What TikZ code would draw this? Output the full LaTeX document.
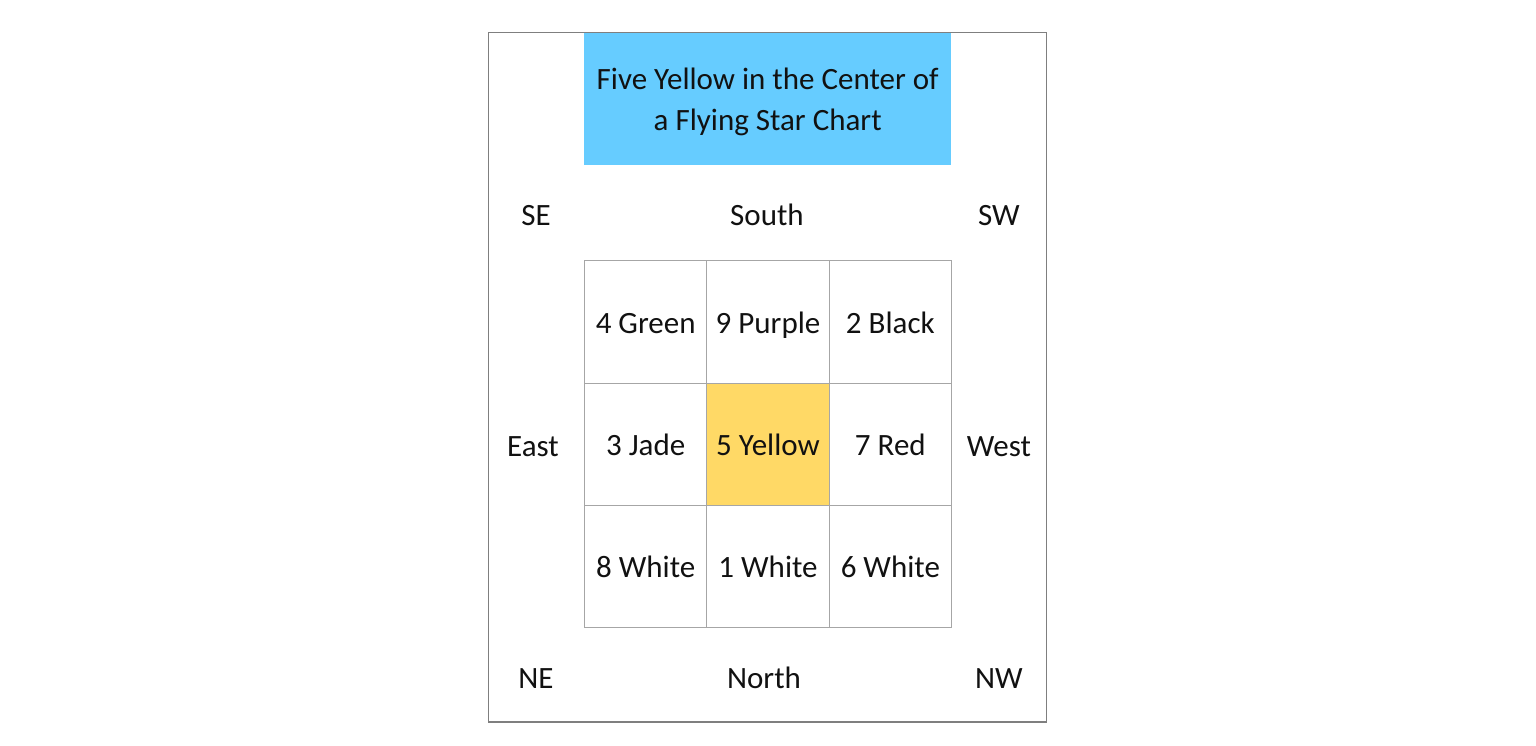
\documentclass[tikz,border=0pt]{standalone}
\usepackage{fontspec}
\setmainfont{Carlito}
\definecolor{titleblue}{HTML}{66CCFF}
\definecolor{centeryellow}{HTML}{FFD966}
\definecolor{gridgray}{HTML}{A6A6A6}
\definecolor{framegray}{HTML}{7F7F7F}
\definecolor{txt}{HTML}{111111}
\begin{document}
\begin{tikzpicture}[x=1pt,y=-1pt,
  lbl/.style={font=\fontsize{31}{37}\selectfont, text=txt, inner sep=0pt, text height=28pt, text depth=6pt},
  cell/.style={draw=gridgray, line width=1pt, minimum width=122.33pt, minimum height=122.33pt, inner sep=0pt, anchor=north west, font=\fontsize{31}{37}\selectfont, text=txt, text height=28pt, text depth=6pt}]
\useasboundingbox (0,0) rectangle (1536,745);
\draw[framegray, line width=1.5pt] (488.5,32.5) rectangle (1046.5,722);
\node[fill=titleblue, minimum width=367pt, minimum height=132pt, anchor=north west, inner sep=0pt] (title) at (584,33) {};
\node[align=center, font=\fontsize{31}{41}\selectfont, text=txt, inner sep=0pt] (titletext) at ([yshift=-2.5pt]title.center) {Five Yellow in the Center of\\a Flying Star Chart};
\node[cell] (c11) at (584,260.33) {4 Green};
\node[cell] (c12) at (706.33,260.33) {9 Purple};
\node[cell] (c13) at (828.67,260.33) {2 Black};
\node[cell] (c21) at (584,382.67) {3 Jade};
\node[cell, fill=centeryellow] (c22) at (706.33,382.67) {5 Yellow};
\node[cell] (c23) at (828.67,382.67) {7 Red};
\node[cell] (c31) at (584,505) {8 White};
\node[cell] (c32) at (706.33,505) {1 White};
\node[cell] (c33) at (828.67,505) {6 White};
\node[lbl] (se) at (536,214) {SE};
\node[lbl] (s) at (767,214) {South};
\node[lbl] (sw) at (999,214) {SW};
\node[lbl] (e) at (533,445) {East};
\node[lbl] (w) at (999,445) {West};
\node[lbl] (ne) at (536,677) {NE};
\node[lbl] (n) at (764,677) {North};
\node[lbl] (nw) at (999,677) {NW};
\end{tikzpicture}
\end{document}
